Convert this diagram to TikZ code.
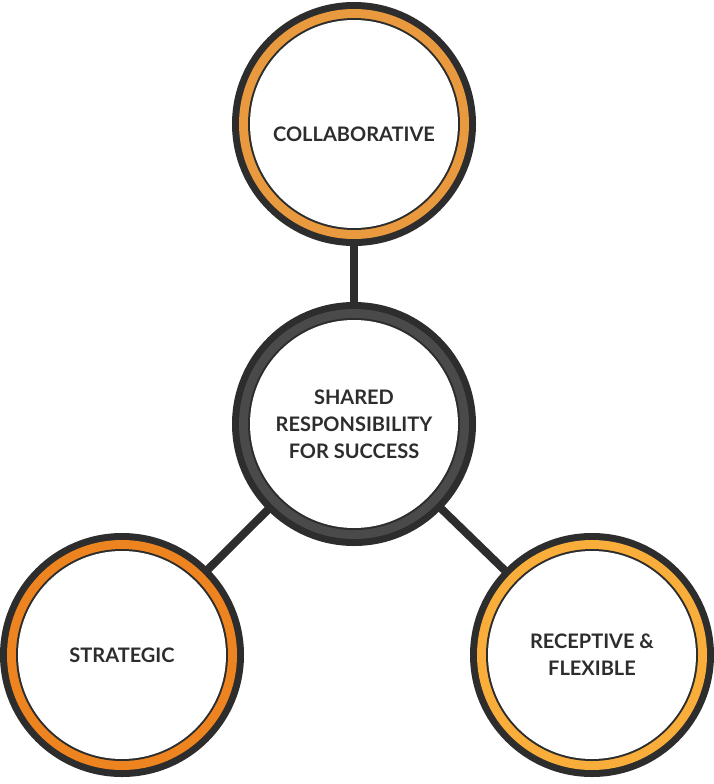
\documentclass[tikz,border=0pt]{standalone}
\usepackage{fontspec}
\setmainfont{Lato}
\definecolor{dk}{HTML}{2D2D2D}
\definecolor{cTop}{HTML}{EA9A3E}
\definecolor{cLeft}{HTML}{EE8420}
\definecolor{cRight}{HTML}{F9AE3C}
\definecolor{cMid}{HTML}{4A4A4A}
\tikzset{
  hub/.style={circle, minimum size=244pt, inner sep=0pt, align=center, font=\fontsize{20}{27}\selectfont\bfseries, text=dk},
  link/.style={draw=dk, line width=8pt},
}
\newcommand{\ringat}[2]{%
  \fill[dk] (#1) circle (122);
  \fill[#2] (#1) circle (115);
  \fill[dk] (#1) circle (106);
  \fill[white] (#1) circle (104);
}
\begin{document}
\begin{tikzpicture}[x=1pt,y=-1pt]
\useasboundingbox (0,0) rectangle (714,784);
\node[hub] (c) at (354,424) {};
\node[hub] (t) at (354,124) {};
\node[hub] (l) at (122,655) {};
\node[hub] (r) at (592,655) {};
\draw[link] (c.center) -- (t.center);
\draw[link] (c.center) -- (l.center);
\draw[link] (c.center) -- (r.center);
\ringat{c}{cMid}
\ringat{t}{cTop}
\ringat{l}{cLeft}
\ringat{r}{cRight}
\node[hub] at (c) {SHARED\\RESPONSIBILITY\\FOR SUCCESS};
\node[hub, yshift=-10pt] at (t) {COLLABORATIVE};
\node[hub] at (l) {STRATEGIC};
\node[hub] at (r) {RECEPTIVE \&\\FLEXIBLE};
\end{tikzpicture}
\end{document}
